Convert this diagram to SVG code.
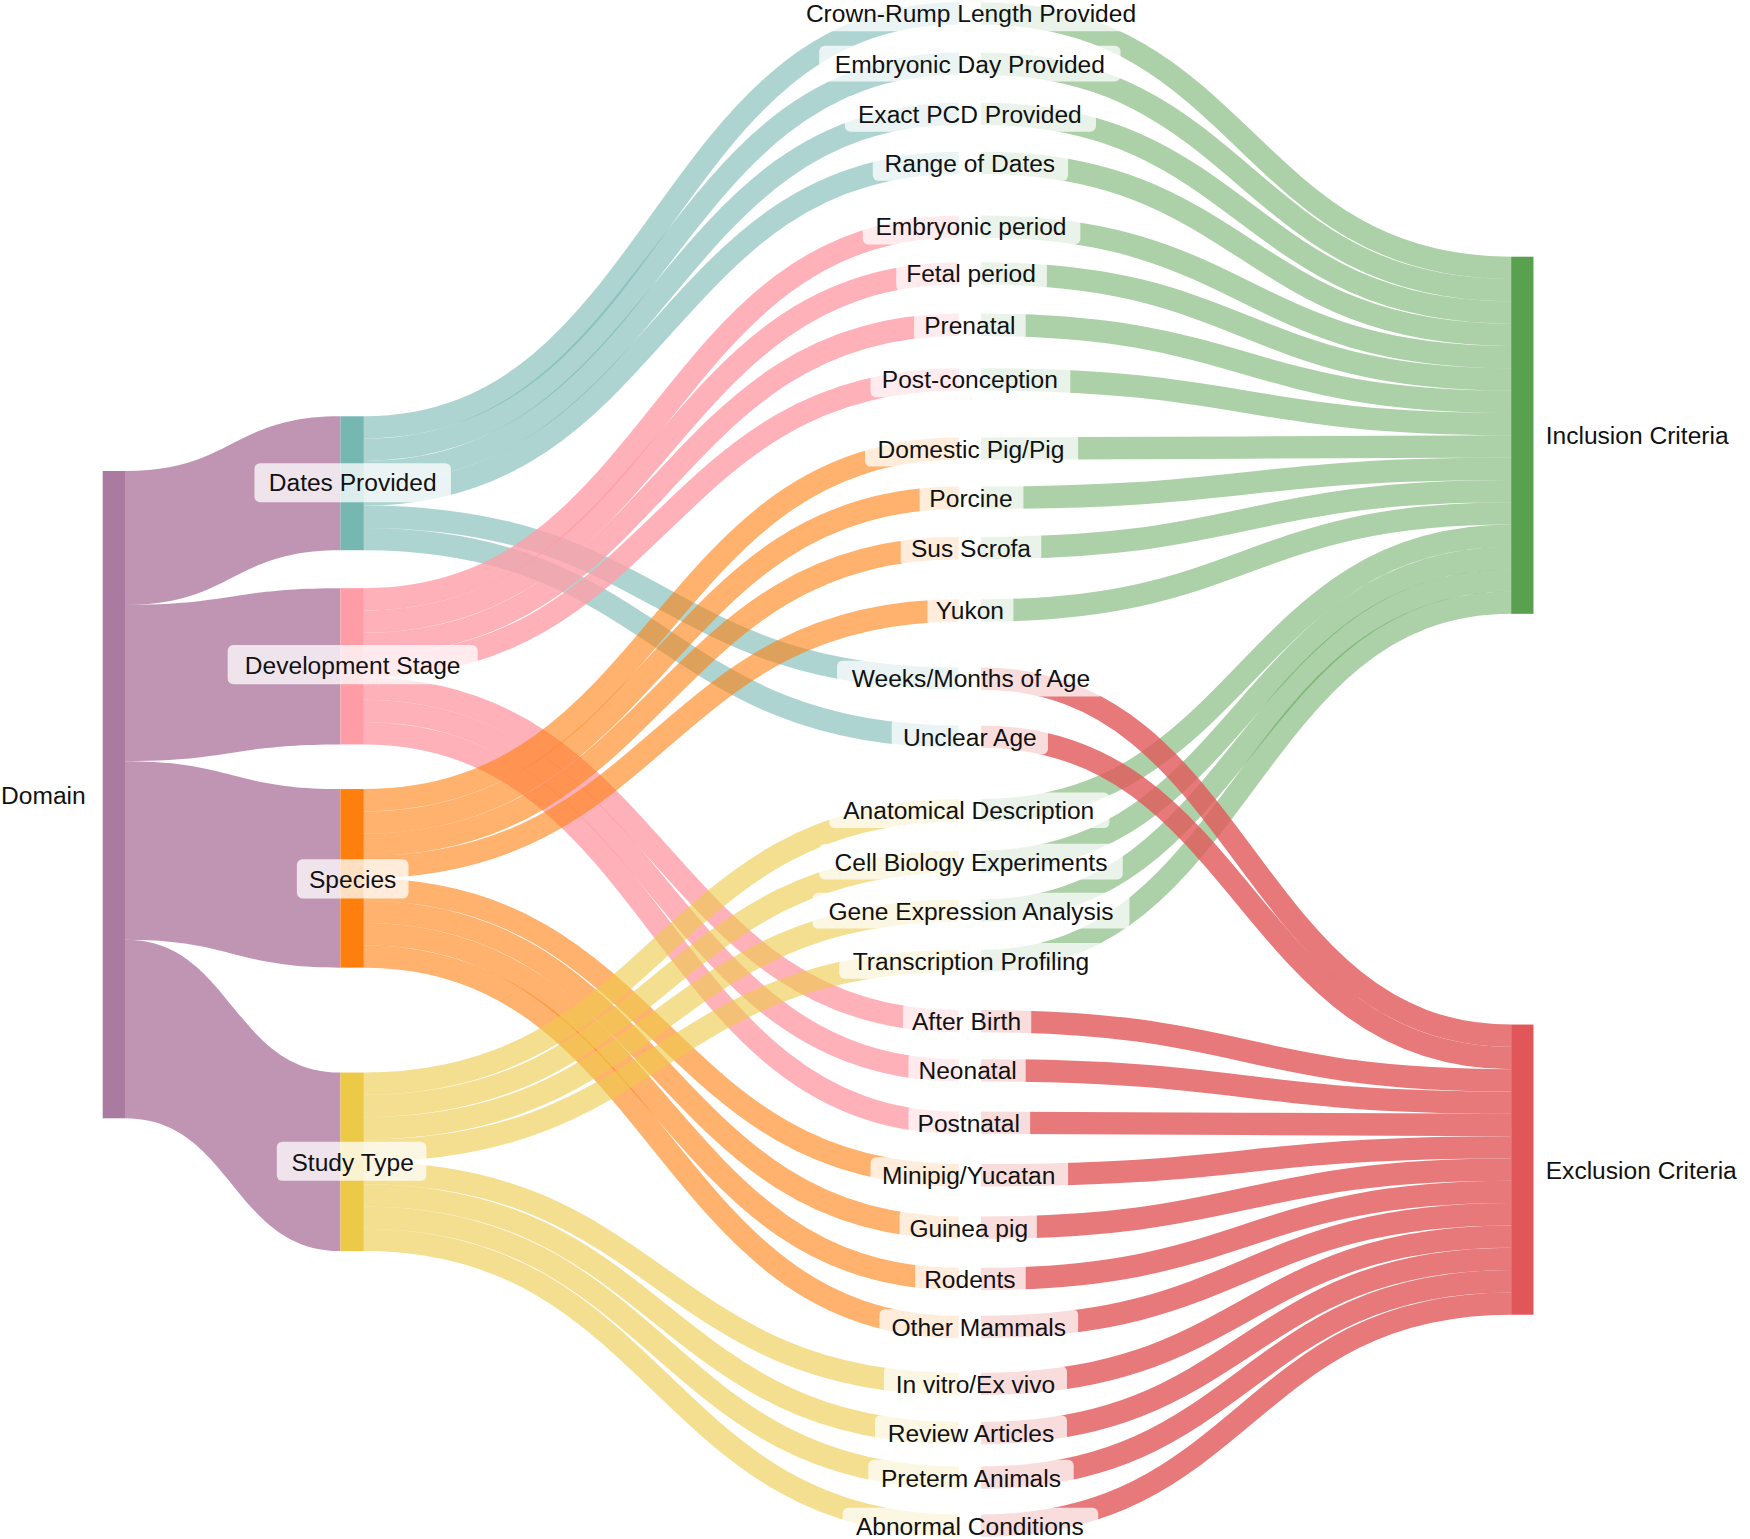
<svg xmlns="http://www.w3.org/2000/svg" width="1750" height="1539" viewBox="0 0 1750 1539">
<style>
.l{fill:none;stroke-width:20}
.t{stroke:#76b7b2;stroke-opacity:.6}
.p{stroke:#ff9da7;stroke-opacity:.8}
.o{stroke:#ff7f0e;stroke-opacity:.6}
.y{stroke:#edc948;stroke-opacity:.6}
.g{stroke:#59a14f;stroke-opacity:.5}
.r{stroke:#e15759;stroke-opacity:.8}
.d{fill:#b07aa1;fill-opacity:.8}
text{font-family:"Liberation Sans",Arial,sans-serif;font-size:22px;fill:#111}
.c{text-anchor:middle}
.bg{fill:#fff;fill-opacity:.75}
</style>
<rect width="1750" height="1539" fill="#fff"/>
<g transform="scale(1.11607)">
<g id="connectors">
<path class="d" d="M112,422 C208,422 208,373 305,373 L305,493 C208,493 208,542 112,542 Z"/>
<path class="d" d="M112,542 C208,542 208,527 305,527 L305,667 C208,667 208,682 112,682 Z"/>
<path class="d" d="M112,682 C208,682 208,707 305,707 L305,867 C208,867 208,842 112,842 Z"/>
<path class="d" d="M112,842 C208,842 208,961 305,961 L305,1121 C208,1121 208,1002 112,1002 Z"/>
<path class="l t" d="M326,383 C592,383 592,12 859,12"/>
<path class="l t" d="M326,403 C592,403 592,57 859,57"/>
<path class="l t" d="M326,423 C592,423 592,102 859,102"/>
<path class="l t" d="M326,443 C592,443 592,146 859,146"/>
<path class="l t" d="M326,463 C592,463 592,608 859,608"/>
<path class="l t" d="M326,483 C592,483 592,660 859,660"/>
<path class="l p" d="M326,537 C592,537 592,203 859,203"/>
<path class="l p" d="M326,557 C592,557 592,245 859,245"/>
<path class="l p" d="M326,577 C592,577 592,291 859,291"/>
<path class="l p" d="M326,597 C592,597 592,340 859,340"/>
<path class="l p" d="M326,617 C592,617 592,915 859,915"/>
<path class="l p" d="M326,637 C592,637 592,959 859,959"/>
<path class="l p" d="M326,657 C592,657 592,1006 859,1006"/>
<path class="l o" d="M326,717 C592,717 592,402 859,402"/>
<path class="l o" d="M326,737 C592,737 592,446 859,446"/>
<path class="l o" d="M326,757 C592,757 592,491 859,491"/>
<path class="l o" d="M326,777 C592,777 592,547 859,547"/>
<path class="l o" d="M326,797 C592,797 592,1053 859,1053"/>
<path class="l o" d="M326,817 C592,817 592,1100 859,1100"/>
<path class="l o" d="M326,837 C592,837 592,1146 859,1146"/>
<path class="l o" d="M326,857 C592,857 592,1189 859,1189"/>
<path class="l y" d="M326,971 C592,971 592,726 859,726"/>
<path class="l y" d="M326,991 C592,991 592,772 859,772"/>
<path class="l y" d="M326,1011 C592,1011 592,816 859,816"/>
<path class="l y" d="M326,1031 C592,1031 592,861 859,861"/>
<path class="l y" d="M326,1051 C592,1051 592,1240 859,1240"/>
<path class="l y" d="M326,1071 C592,1071 592,1284 859,1284"/>
<path class="l y" d="M326,1091 C592,1091 592,1324 859,1324"/>
<path class="l y" d="M326,1111 C592,1111 592,1367 859,1367"/>
<path class="l g" d="M879,12 C1116,12 1116,240 1354,240"/>
<path class="l g" d="M879,57 C1116,57 1116,260 1354,260"/>
<path class="l g" d="M879,102 C1116,102 1116,280 1354,280"/>
<path class="l g" d="M879,146 C1116,146 1116,300 1354,300"/>
<path class="l g" d="M879,203 C1116,203 1116,320 1354,320"/>
<path class="l g" d="M879,245 C1116,245 1116,340 1354,340"/>
<path class="l g" d="M879,291 C1116,291 1116,360 1354,360"/>
<path class="l g" d="M879,340 C1116,340 1116,380 1354,380"/>
<path class="l g" d="M879,402 C1116,402 1116,400 1354,400"/>
<path class="l g" d="M879,446 C1116,446 1116,420 1354,420"/>
<path class="l g" d="M879,491 C1116,491 1116,440 1354,440"/>
<path class="l g" d="M879,547 C1116,547 1116,460 1354,460"/>
<path class="l g" d="M879,726 C1116,726 1116,480 1354,480"/>
<path class="l g" d="M879,772 C1116,772 1116,500 1354,500"/>
<path class="l g" d="M879,816 C1116,816 1116,520 1354,520"/>
<path class="l g" d="M879,861 C1116,861 1116,540 1354,540"/>
<path class="l r" d="M879,608 C1116,608 1116,928 1354,928"/>
<path class="l r" d="M879,660 C1116,660 1116,948 1354,948"/>
<path class="l r" d="M879,915 C1116,915 1116,968 1354,968"/>
<path class="l r" d="M879,959 C1116,959 1116,988 1354,988"/>
<path class="l r" d="M879,1006 C1116,1006 1116,1008 1354,1008"/>
<path class="l r" d="M879,1053 C1116,1053 1116,1028 1354,1028"/>
<path class="l r" d="M879,1100 C1116,1100 1116,1048 1354,1048"/>
<path class="l r" d="M879,1146 C1116,1146 1116,1068 1354,1068"/>
<path class="l r" d="M879,1189 C1116,1189 1116,1088 1354,1088"/>
<path class="l r" d="M879,1240 C1116,1240 1116,1108 1354,1108"/>
<path class="l r" d="M879,1284 C1116,1284 1116,1128 1354,1128"/>
<path class="l r" d="M879,1324 C1116,1324 1116,1148 1354,1148"/>
<path class="l r" d="M879,1367 C1116,1367 1116,1168 1354,1168"/>
</g>
<g id="domain"><rect x="92" y="422" width="20" height="580" fill="#ab7aa0"/><text x="1" y="720">Domain</text></g>
<g id="dates"><rect x="305" y="373" width="21" height="120" fill="#76b7b2"/><rect class="bg" x="228" y="415" width="176" height="35" rx="5"/><text class="c" x="316" y="440">Dates Provided</text></g>
<g id="dev"><rect x="305" y="527" width="21" height="140" fill="#ff9da7"/><rect class="bg" x="204" y="578" width="224" height="35" rx="5"/><text class="c" x="316" y="604">Development Stage</text></g>
<g id="species"><rect x="305" y="707" width="21" height="160" fill="#ff7f0e"/><rect class="bg" x="266" y="770" width="100" height="35" rx="5"/><text class="c" x="316" y="796">Species</text></g>
<g id="study"><rect x="305" y="961" width="21" height="160" fill="#edc948"/><rect class="bg" x="248" y="1023" width="134" height="35" rx="5"/><text class="c" x="316" y="1049">Study Type</text></g>
<g id="incl"><rect x="1354" y="230" width="20" height="320" fill="#59a14f"/><text x="1385" y="398">Inclusion Criteria</text></g>
<g id="excl"><rect x="1354" y="918" width="20" height="260" fill="#e15759"/><text x="1385" y="1056">Exclusion Criteria</text></g>
<g id="mid">
<rect class="bg" x="708" y="-4" width="326" height="32" rx="5"/><text class="c" x="870" y="20">Crown-Rump Length Provided</text>
<rect class="bg" x="734" y="41" width="270" height="32" rx="5"/><text class="c" x="869" y="65">Embryonic Day Provided</text>
<rect class="bg" x="757" y="86" width="225" height="32" rx="5"/><text class="c" x="869" y="110">Exact PCD Provided</text>
<rect class="bg" x="782" y="130" width="175" height="32" rx="5"/><text class="c" x="869" y="154">Range of Dates</text>
<rect class="bg" x="773" y="187" width="195" height="32" rx="5"/><text class="c" x="870" y="211">Embryonic period</text>
<rect class="bg" x="803" y="229" width="135" height="32" rx="5"/><text class="c" x="870" y="253">Fetal period</text>
<rect class="bg" x="819" y="275" width="100" height="32" rx="5"/><text class="c" x="869" y="299">Prenatal</text>
<rect class="bg" x="780" y="324" width="179" height="32" rx="5"/><text class="c" x="869" y="348">Post-conception</text>
<rect class="bg" x="775" y="386" width="191" height="32" rx="5"/><text class="c" x="870" y="410">Domestic Pig/Pig</text>
<rect class="bg" x="824" y="430" width="93" height="32" rx="5"/><text class="c" x="870" y="454">Porcine</text>
<rect class="bg" x="807" y="475" width="126" height="32" rx="5"/><text class="c" x="870" y="499">Sus Scrofa</text>
<rect class="bg" x="831" y="531" width="77" height="32" rx="5"/><text class="c" x="869" y="555">Yukon</text>
<rect class="bg" x="750" y="592" width="240" height="32" rx="5"/><text class="c" x="870" y="616">Weeks/Months of Age</text>
<rect class="bg" x="799" y="644" width="140" height="32" rx="5"/><text class="c" x="869" y="668">Unclear Age</text>
<rect class="bg" x="743" y="710" width="251" height="32" rx="5"/><text class="c" x="868" y="734">Anatomical Description</text>
<rect class="bg" x="734" y="756" width="272" height="32" rx="5"/><text class="c" x="870" y="780">Cell Biology Experiments</text>
<rect class="bg" x="728" y="800" width="284" height="32" rx="5"/><text class="c" x="870" y="824">Gene Expression Analysis</text>
<rect class="bg" x="752" y="845" width="237" height="32" rx="5"/><text class="c" x="870" y="869">Transcription Profiling</text>
<rect class="bg" x="809" y="899" width="115" height="32" rx="5"/><text class="c" x="866" y="923">After Birth</text>
<rect class="bg" x="814" y="943" width="105" height="32" rx="5"/><text class="c" x="867" y="967">Neonatal</text>
<rect class="bg" x="814" y="990" width="109" height="32" rx="5"/><text class="c" x="868" y="1014">Postnatal</text>
<rect class="bg" x="780" y="1037" width="177" height="32" rx="5"/><text class="c" x="868" y="1061">Minipig/Yucatan</text>
<rect class="bg" x="806" y="1084" width="123" height="32" rx="5"/><text class="c" x="868" y="1108">Guinea pig</text>
<rect class="bg" x="820" y="1130" width="99" height="32" rx="5"/><text class="c" x="869" y="1154">Rodents</text>
<rect class="bg" x="788" y="1173" width="178" height="32" rx="5"/><text class="c" x="877" y="1197">Other Mammals</text>
<rect class="bg" x="792" y="1224" width="164" height="32" rx="5"/><text class="c" x="874" y="1248">In vitro/Ex vivo</text>
<rect class="bg" x="784" y="1268" width="172" height="32" rx="5"/><text class="c" x="870" y="1292">Review Articles</text>
<rect class="bg" x="778" y="1308" width="184" height="32" rx="5"/><text class="c" x="870" y="1332">Preterm Animals</text>
<rect class="bg" x="755" y="1351" width="229" height="32" rx="5"/><text class="c" x="869" y="1375">Abnormal Conditions</text>
</g>
</g>
</svg>
